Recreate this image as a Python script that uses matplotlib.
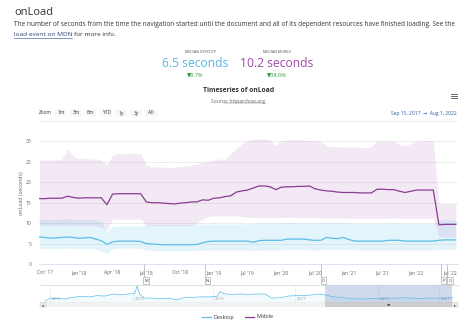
import numpy as np
import matplotlib.pyplot as plt
from matplotlib.patches import Rectangle, FancyBboxPatch

plt.rcParams['font.family'] = ['Open Sans', 'DejaVu Sans']

# %%
# Data (ordinal x: one slot per crawl, semi-monthly until 2019, then monthly)

desktop = [6.6, 6.5, 6.3, 6.4, 6.5, 6.6, 6.5, 6.3, 6.4, 6.5,
           6.1, 5.7, 4.8, 5.4, 5.6, 5.6, 5.6, 5.6, 5.5, 5.0,
           4.9, 4.8, 4.7, 4.7, 4.7, 4.7, 4.7, 4.7, 4.8, 5.2,
           5.5, 5.6, 5.6, 5.6, 5.6, 5.6, 5.6, 5.6, 5.3, 5.7,
           5.8, 5.8, 5.8, 5.8, 6.1, 6.1, 6.1, 6.1, 5.9, 5.8,
           5.8, 6.5, 6.3, 6.2, 6.5, 6.0, 5.6, 5.6, 5.6, 5.6,
           5.6, 5.6, 5.8, 5.8, 5.8, 5.6, 5.6, 5.6, 5.6, 5.6,
           5.6, 5.8, 5.9, 5.9, 5.9]
desktop_hi = [11.0, 11.0, 10.9, 11.0, 11.0, 11.1, 11.0, 10.9, 10.9, 11.0,
              10.8, 10.4, 8.0, 9.2, 9.3, 9.3, 9.3, 9.3, 9.3, 9.6,
              9.6, 9.6, 9.6, 9.6, 9.6, 9.6, 9.6, 9.6, 9.7, 9.8,
              9.8, 9.8, 9.8, 9.8, 9.8, 9.8, 9.8, 9.9, 9.9, 10.0,
              10.0, 10.0, 10.0, 10.1, 10.1, 10.1, 10.1, 10.0, 10.0, 10.0,
              10.1, 10.2, 10.1, 10.1, 10.2, 10.0, 9.9, 9.9, 9.9, 9.9,
              9.9, 9.9, 10.0, 10.0, 10.0, 9.9, 9.9, 9.9, 9.9, 9.9,
              9.9, 10.8, 10.8, 10.8, 10.8]
desktop_lo = [3.8, 3.8, 3.7, 3.8, 3.8, 3.9, 3.8, 3.7, 3.8, 3.8,
              3.6, 3.3, 2.5, 3.7, 3.9, 3.9, 3.9, 3.9, 3.8, 3.4,
              3.3, 3.3, 3.3, 3.3, 3.3, 3.3, 3.3, 3.3, 3.3, 3.4,
              3.4, 3.4, 3.4, 3.4, 3.4, 3.4, 3.4, 3.4, 3.3, 3.4,
              3.4, 3.4, 3.4, 3.4, 3.5, 3.5, 3.5, 3.5, 3.4, 3.4,
              3.4, 3.6, 3.5, 3.5, 3.6, 3.5, 3.4, 3.4, 3.4, 3.4,
              3.4, 3.4, 3.4, 3.4, 3.4, 3.4, 3.4, 3.4, 3.4, 3.4,
              3.4, 3.6, 3.6, 3.6, 3.6]

mobile = [16.0, 16.0, 16.1, 16.1, 16.1, 16.6, 16.3, 16.1, 16.2, 16.2,
          16.2, 16.2, 14.5, 17.1, 17.2, 17.2, 17.2, 17.2, 17.2, 15.2,
          15.0, 15.0, 14.9, 14.8, 14.7, 14.9, 15.0, 15.2, 15.2, 15.7,
          15.6, 16.1, 16.2, 16.5, 16.7, 17.6, 17.9, 18.1, 18.6, 19.1,
          19.1, 18.9, 18.2, 18.8, 18.9, 18.9, 19.0, 19.0, 19.1, 18.4,
          18.1, 17.9, 17.8, 17.6, 17.5, 17.5, 17.5, 17.4, 17.4, 17.4,
          18.3, 18.3, 18.2, 18.2, 17.8, 17.5, 17.8, 18.1, 18.1, 18.1,
          18.1, 9.6, 9.7, 9.7, 9.7]
mobile_hi = [25.5, 25.5, 25.4, 25.5, 25.6, 28.2, 26.3, 25.8, 25.9, 25.6,
             25.8, 25.5, 24.1, 26.7, 27.0, 27.0, 27.1, 27.0, 27.0, 24.2,
             23.8, 23.7, 23.7, 23.6, 23.7, 23.8, 24.0, 24.2, 24.4, 24.9,
             25.1, 25.4, 25.7, 25.7, 27.0, 28.2, 29.5, 30.2, 30.6, 30.6,
             30.6, 30.4, 29.0, 30.2, 30.3, 30.4, 30.4, 30.3, 30.2, 30.2,
             30.0, 29.0, 28.7, 28.7, 28.6, 28.6, 28.7, 28.5, 28.5, 28.8,
             30.1, 30.1, 30.1, 30.1, 29.2, 28.9, 29.5, 30.0, 30.2, 30.2,
             30.2, 14.8, 14.8, 14.8, 14.8]
mobile_lo = [9.4, 9.4, 9.4, 9.4, 9.4, 9.4, 9.4, 9.4, 9.4, 9.4,
             9.3, 9.0, 8.4, 11.0, 11.0, 11.0, 11.0, 11.0, 11.0, 9.4,
             9.4, 9.4, 9.4, 9.4, 9.4, 9.4, 9.4, 9.4, 10.0, 11.0,
             11.6, 11.8, 11.8, 11.8, 11.8, 11.8, 11.6, 11.4, 11.4, 11.4,
             11.4, 11.4, 11.4, 11.4, 11.4, 11.4, 11.4, 11.4, 11.4, 11.4,
             11.2, 11.2, 11.2, 11.2, 11.2, 11.2, 11.2, 11.2, 11.2, 11.2,
             11.2, 11.2, 11.2, 11.2, 11.2, 11.2, 11.2, 11.2, 11.2, 11.2,
             11.2, 6.6, 6.6, 6.6, 6.6]

tick_idx = [1, 7, 13, 19, 25, 31, 37, 43, 49, 55, 61, 67, 73]
tick_labels = ["Oct '17", "Jan '18", "Apr '18", "Jul '18", "Oct '18", "Jan '19",
               "Jul '19", "Jan '20", "Jul '20", "Jan '21", "Jul '21", "Jan '22", "Jul '22"]

flag_idx = [18.5, 29.4, 50.0, 71.4, 72.5]
flag_labels = ["M", "N", "O", "P", "Q"]

# navigator: whole history of desktop medians
nav_x = [5, 10, 17, 25, 33, 41, 49, 57, 65, 73, 81, 89, 95, 97, 100, 105, 113, 121,
         129, 137, 145, 153, 161, 169, 177, 180, 185, 193, 201, 209, 217, 225, 232,
         240, 248, 256, 264, 272, 280, 285, 293, 301, 309, 317, 325, 333, 341, 349,
         357, 365, 373, 381, 389, 397, 405, 413]
nav_val = [2.6, 4.8, 4.5, 4.2, 5.4, 6.0, 5.7, 6.6, 6.3, 7.8, 7.2, 7.8, 8.4, 13.8, 7.2,
           4.8, 4.8, 4.5, 4.8, 3.6, 5.4, 5.4, 5.7, 5.7, 6.0, 9.6, 7.8, 7.5, 7.8, 7.5,
           7.8, 7.8, 4.8, 5.1, 6.3, 6.6, 6.6, 7.2, 7.8, 7.2, 5.7, 5.4, 4.5, 4.2, 4.2,
           4.5, 4.5, 4.8, 4.8, 5.1, 4.8, 4.5, 4.8, 4.8, 4.8, 5.1]
nav_years = ["2011", "2013", "2015", "2017", "2019", "2021"]
nav_year_x = [10, 93, 173, 255, 338, 399]
nav_window = (285, 412)

DESKTOP = "#5bbde6"
MOBILE = "#883d92"
GREY = "#666666"

# %%

W, H = 474, 323
fig = plt.figure(figsize=(W / 100, H / 100), dpi=100)


def px_box(x0, y0, x1, y1):
    return [x0 / W, 1 - y1 / H, (x1 - x0) / W, (y1 - y0) / H]


# overlay in pixel coordinates for page text and chrome
ov = fig.add_axes([0, 0, 1, 1])
ov.set_xlim(0, W)
ov.set_ylim(H, 0)
ov.axis("off")

ov.text(14, 12.5, "onLoad", fontsize=8, color="#333333", va="center")
ov.text(14, 25, "The number of seconds from the time the navigation started until the document and all of its "
        "dependent resources have finished loading. See the", fontsize=4.7, color="#333333", va="center")
ov.text(14, 35, "load event on MDN", fontsize=4.65, color="#2a4a7a", va="center")
ov.plot([14, 72], [37.6, 37.6], color="#2a4a7a", lw=0.4)
ov.text(74.5, 35, "for more info.", fontsize=4.65, color="#333333", va="center")

ov.text(200, 52, "MEDIAN DESKTOP", fontsize=2.6, color="#555555", ha="center", va="center")
ov.text(195, 63.5, "6.5 seconds", fontsize=8.7, color="#5bb5e0", ha="center", va="center")
ov.text(195, 75, "\u25bc9.7%", fontsize=4, color="#2e9a3a", ha="center", va="center")
ov.text(277, 52, "MEDIAN MOBILE", fontsize=2.6, color="#555555", ha="center", va="center")
ov.text(277, 63.5, "10.2 seconds", fontsize=8.7, color="#9c4aa6", ha="center", va="center")
ov.text(277, 75, "\u25bc38.6%", fontsize=4, color="#2e9a3a", ha="center", va="center")

ov.text(239, 91, "Timeseries of onLoad", fontsize=4.9, fontweight="bold", color="#333333", ha="center", va="center")
ov.text(238, 101, "Source: httparchive.org", fontsize=3.6, color=GREY, ha="center", va="center")
ov.plot([224, 266], [103, 103], color=GREY, lw=0.3)

for y in (93.5, 95.5, 97.5):
    ov.plot([451.5, 457.5], [y, y], color="#666666", lw=0.7)

for x, lab in zip([45, 61, 76, 90, 106, 121, 136, 151],
                  ["Zoom", "1m", "3m", "6m", "YTD", "1y", "3y", "All"]):
    if lab != "Zoom":
        ov.add_patch(FancyBboxPatch((x - 6, 109.5), 12, 7, boxstyle="round,pad=0,rounding_size=1",
                                    fc="#f7f7f7", ec="none"))
    ov.text(x, 113, lab, fontsize=3.5, color="#333333", ha="center", va="center")

ov.text(457, 113.5, "Sep 15, 2017  \u2192  Aug 1, 2022", fontsize=3.6, color="#335cad", ha="right", va="center")
ov.text(22, 193, "onLoad (seconds)", fontsize=3.9, color=GREY, rotation=90, ha="center", va="center")

# scrollbar under the navigator
ov.add_patch(Rectangle((40, 302), 418, 5, fc="#f2f2f2", ec="none"))
ov.add_patch(Rectangle((325, 302), 127, 5, fc="#cccccc", ec="none"))
ov.text(388.5, 304.5, "\u2261", fontsize=3, color="#333333", ha="center", va="center")
for x0 in (40, 452):
    ov.add_patch(Rectangle((x0, 302), 6, 5, fc="#e6e6e6", ec="#cccccc", lw=0.3))
ov.text(43, 304.6, "\u25c2", fontsize=2.6, color="#333333", ha="center", va="center")
ov.text(455, 304.6, "\u25b8", fontsize=2.6, color="#333333", ha="center", va="center")

# %%
# main time series

x = np.arange(len(desktop))
ax = fig.add_axes(px_box(39.4, 121, 457.5, 264))
ax.set_facecolor("none")

ax.fill_between(x, mobile_lo, mobile_hi, color="#a35ab0", alpha=0.13, lw=0, zorder=1)
ax.fill_between(x, desktop_lo, desktop_hi, color="#4fb8e8", alpha=0.15, lw=0, zorder=1)
ax.plot(x, desktop, color=DESKTOP, lw=0.9, label="Desktop", zorder=3)
ax.plot(x, mobile, color=MOBILE, lw=0.9, label="Mobile", zorder=3)

ax.set_xlim(0, 74.3)
ax.set_ylim(0, 35)
ax.set_yticks(range(0, 36, 5))
ax.set_yticklabels([str(v) for v in range(0, 31, 5)] + [""])
ax.yaxis.grid(True, color="#e6e6e6", lw=0.5)
ax.set_axisbelow(True)
ax.tick_params(axis="y", length=0, pad=5.5, labelsize=3.6, labelcolor=GREY)
ax.set_xticks(tick_idx)
ax.set_xticklabels(tick_labels)
ax.tick_params(axis="x", length=0, pad=4.5, labelsize=3.6, labelcolor=GREY)
for side in ("top", "right", "left"):
    ax.spines[side].set_visible(False)
ax.spines["bottom"].set_color("#ccd6eb")
ax.spines["bottom"].set_linewidth(0.5)

# event flags below the axis
yspan = 264 - 121
f_top, f_box = -(277 - 264) / yspan, -(280.5 - 264) / yspan
trans = ax.get_xaxis_transform()
for fi, fl in zip(flag_idx, flag_labels):
    ax.plot([fi, fi], [0, f_top], color="#999999", lw=0.4, transform=trans, clip_on=False)
    ax.text(fi + 0.45, f_box, fl, transform=trans, fontsize=3, color="#333333", ha="center", va="center",
            bbox=dict(boxstyle="square,pad=0.25", fc="white", ec="#999999", lw=0.4), clip_on=False)

ax.legend(loc="center", bbox_to_anchor=(238 / W, 1 - 317 / H), bbox_transform=fig.transFigure,
          ncol=2, frameon=False, fontsize=3.9, handlelength=1.6, handletextpad=0.5, columnspacing=2.0,
          labelcolor="#333333")

# %%
# navigator

nav = fig.add_axes(px_box(40, 285, 458, 302))
nav.set_facecolor("white")
nav.set_xlim(0, 418)
nav.set_ylim(2.0, 14.3)
nav.fill_between(nav_x, nav_val, 2.0, color=DESKTOP, alpha=0.07, lw=0)
nav.plot(nav_x, nav_val, color=DESKTOP, lw=0.5)
for yx, lab in zip(nav_year_x, nav_years):
    nav.axvline(yx, color="#e6e6e6", lw=0.4, zorder=0)
    nav.text(yx + 1.5, 0.17, lab, transform=nav.get_xaxis_transform(), fontsize=3.1, color="#999999",
             va="center")
nav.axvspan(*nav_window, color="#6685c2", alpha=0.3, lw=0)
nav.set_xticks([])
nav.set_yticks([])
for side in ("right", "left", "bottom"):
    nav.spines[side].set_visible(False)
nav.spines["top"].set_color("#cccccc")
nav.spines["top"].set_linewidth(0.4)

for hx in nav_window:
    ov.add_patch(Rectangle((40 + hx - 1.8, 290), 3.6, 7, fc="#f2f2f2", ec="#999999", lw=0.3, zorder=5))

fig.savefig("out.png", dpi=100)
